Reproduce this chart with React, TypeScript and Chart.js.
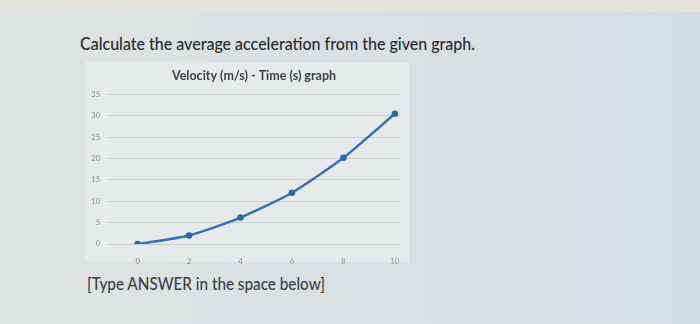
import React, { useEffect, useLayoutEffect, useRef } from "react";
import { Chart, registerables } from "chart.js";

Chart.register(...registerables);

const headingText = "Calculate the average acceleration from the given graph.";
const chartTitle = "Velocity (m/s) - Time (s) graph";
const footerText = "[Type ANSWER in the space below]";

const times = [0, 2, 4, 6, 8, 10];
const velocities = [0, 2, 6.2, 12, 20.2, 30.5];
const xTickValues = [0, 2, 4, 6, 8, 10];
const yTickValues = [0, 5, 10, 15, 20, 25, 30, 35];

function FitText(props: { text: string; width: number; style: React.CSSProperties }) {
  const ref = useRef<HTMLSpanElement>(null);
  useLayoutEffect(() => {
    const el = ref.current;
    if (!el) return;
    el.style.transform = "none";
    const w = el.getBoundingClientRect().width;
    if (w > 0) el.style.transform = `scaleX(${props.width / w})`;
  }, [props.text, props.width]);
  return (
    <span
      ref={ref}
      style={{
        position: "absolute",
        whiteSpace: "nowrap",
        display: "inline-block",
        transformOrigin: "left top",
        ...props.style,
      }}
    >
      {props.text}
    </span>
  );
}

export default function App() {
  const canvasRef = useRef<HTMLCanvasElement>(null);

  useEffect(() => {
    document.body.style.margin = "0";
    const canvas = canvasRef.current;
    if (!canvas) return;
    const chart = new Chart(canvas, {
      type: "line",
      data: {
        datasets: [
          {
            data: times.map((t, i) => ({ x: t, y: velocities[i] })),
            borderColor: "#3470b6",
            backgroundColor: "#3470b6",
            borderWidth: 2.5,
            pointRadius: 3.3,
            pointBackgroundColor: "#2f66aa",
            pointBorderWidth: 0,
            tension: 0.22,
          },
        ],
      },
      options: {
        animation: false,
        responsive: false,
        layout: { padding: { left: 0, right: 32, top: 0, bottom: 0 } },
        plugins: {
          legend: { display: false },
          tooltip: { enabled: false },
          title: {
            display: true,
            fullSize: false,
            text: chartTitle,
            color: "#3c4146",
            font: { family: "Lato", size: 12.5, weight: "bold" },
            padding: { top: 8, bottom: 11.6 },
          },
        },
        scales: {
          x: {
            type: "linear",
            min: -1.15,
            max: 10.2,
            afterBuildTicks: (scale: any) => {
              scale.ticks = xTickValues.map((v) => ({ value: v }));
            },
            afterFit: (scale: any) => {
              scale.height = 26;
            },
            grid: { display: false },
            border: { display: false },
            ticks: {
              color: "#868c92",
              font: { family: "Lato", size: 7.5 },
              padding: 5,
              maxRotation: 0,
              autoSkip: false,
            },
          },
          y: {
            type: "linear",
            min: 0,
            max: 35,
            afterBuildTicks: (scale: any) => {
              scale.ticks = yTickValues.map((v) => ({ value: v }));
            },
            afterFit: (scale: any) => {
              scale.width = 28;
            },
            grid: { color: "#c9ced1", lineWidth: 1, drawTicks: false },
            border: { display: false },
            ticks: {
              color: "#868c92",
              font: { family: "Lato", size: 7.5 },
              padding: 8,
            },
          },
        },
      },
    });
    return () => chart.destroy();
  }, []);

  return (
    <div
      style={{
        position: "fixed",
        left: 0,
        top: 0,
        width: 700,
        height: 324,
        overflow: "hidden",
        background: "linear-gradient(to right, #dfe3e3 0%, #d9dfe2 55%, #d6dde2 100%)",
      }}
    >
      <div style={{ position: "absolute", left: 0, top: 0, width: 700, height: 12, background: "#e4e2d9" }} />
      <div style={{ position: "absolute", left: 85, top: 62, width: 324, height: 200, background: "#e7eaeb" }} />
      <FitText
        text={headingText}
        width={395}
        style={{
          left: 80,
          top: 33,
          fontFamily: "Lato",
          fontWeight: 500,
          fontSize: 17.6,
          lineHeight: 1.2,
          color: "#262b31",
        }}
      />
      <canvas
        ref={canvasRef}
        width={352}
        height={210}
        style={{ position: "absolute", left: 80, top: 60, width: 352, height: 210 }}
      />
      <FitText
        text={footerText}
        width={238}
        style={{
          left: 87,
          top: 273,
          fontFamily: "Lato",
          fontWeight: 500,
          fontSize: 18,
          lineHeight: 1.2,
          color: "#3a3e44",
        }}
      />
    </div>
  );
}
